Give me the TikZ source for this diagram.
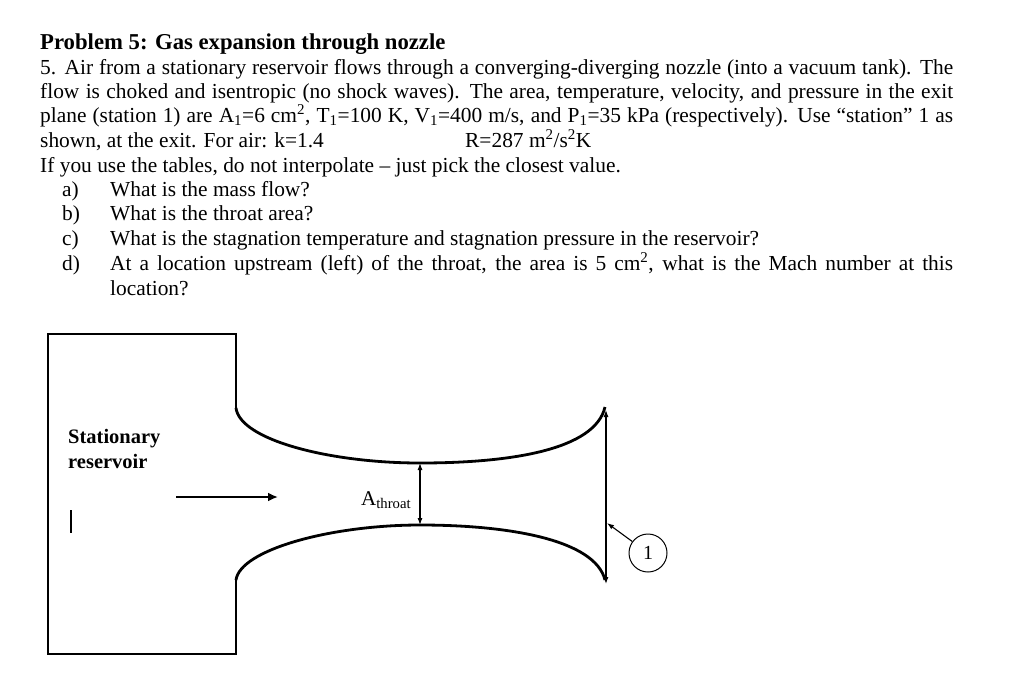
\documentclass[tikz,border=0pt]{standalone}
\usepackage{fontspec}
\usetikzlibrary{arrows.meta}
\setmainfont{Liberation Serif}
\begin{document}
\begin{tikzpicture}[x=1pt,y=-1pt,
  txt/.style={anchor=base west,inner sep=0pt,font=\fontsize{21.4}{24}\selectfont},
  wall/.style={line width=2.8pt},
  dim/.style={line width=1.1pt,-{Latex[length=7pt,width=5pt]}}]
\useasboundingbox (0,0) rectangle (1024,672);
\node[txt,font=\bfseries\fontsize{22.7}{24}\selectfont] (t0) at (40,49) {Problem 5: Gas expansion through nozzle};
\node[txt] (t1) at (40,74) {\makebox[913pt][s]{5. Air from a stationary reservoir flows through a converging-diverging nozzle (into a vacuum tank). The}};
\node[txt] (t2) at (40,98) {\makebox[913pt][s]{flow is choked and isentropic (no shock waves). The area, temperature, velocity, and pressure in the exit}};
\node[txt] (t3) at (40,122) {\makebox[913pt][s]{plane (station 1) are A\textsubscript{1}=6 cm\textsuperscript{2}, T\textsubscript{1}=100 K, V\textsubscript{1}=400 m/s, and P\textsubscript{1}=35 kPa (respectively). Use “station” 1 as}};
\node[txt] (t4) at (40,147) {shown, at the exit. For air: k=1.4};
\node[txt] (t4b) at (465,147) {R=287 m\textsuperscript{2}/s\textsuperscript{2}K};
\node[txt] (t5) at (40,172) {If you use the tables, do not interpolate -- just pick the closest value.};
\node[txt] (a1) at (62,196) {a)}; \node[txt] (a2) at (110,196) {What is the mass flow?};
\node[txt] (b1) at (62,220) {b)}; \node[txt] (b2) at (110,220) {What is the throat area?};
\node[txt] (c1) at (62,245) {c)}; \node[txt] (c2) at (110,245) {What is the stagnation temperature and stagnation pressure in the reservoir?};
\node[txt] (d1) at (62,270) {d)}; \node[txt] (d2) at (110,270) {\makebox[843pt][s]{At a location upstream (left) of the throat, the area is 5 cm\textsuperscript{2}, what is the Mach number at this}};
\node[txt] (d3) at (110,295) {location?};
% diagram
\draw[wall] (236,408) -- (236,334) -- (48,334) -- (48,654) -- (236,654) -- (236,580);
\draw[wall] (236,408) .. controls (240,440) and (330,463) .. (420,463) .. controls (510,463) and (595,450) .. (605,407);
\draw[wall] (236,580) .. controls (240,550) and (330,525) .. (420,525) .. controls (510,525) and (595,540) .. (605,580);
\coordinate (th1) at (420,463); \coordinate (th2) at (420,525);
\draw[dim,{Latex[length=7pt,width=5pt]}-{Latex[length=7pt,width=5pt]}] (th1) -- (th2);
\coordinate (ex1) at (606,410); \coordinate (ex2) at (606,584);
\draw[dim,{Latex[length=7pt,width=5pt]}-{Latex[length=7pt,width=5pt]}] (ex1) -- (ex2);
\node[draw,circle,line width=1pt,minimum size=38pt,inner sep=0pt,font=\fontsize{20}{22}\selectfont] (one) at (648,553) {1};
\coordinate (ex3) at (607,523);
\draw[dim] (one) -- (ex3);
\node[txt,font=\fontsize{21}{22}\selectfont] (ath) at (361,505) {A\textsubscript{throat}};
\coordinate (f1) at (176,497); \coordinate (f2) at (278,497);
\draw[line width=2.8pt,-{Latex[length=10pt,width=9pt]}] (f1) -- (f2);
\node[txt,font=\bfseries\fontsize{20.5}{22}\selectfont] (sr1) at (68,443) {Stationary};
\node[txt,font=\bfseries\fontsize{20.5}{22}\selectfont] (sr2) at (68,468) {reservoir};
\coordinate (bar1) at (71,510); \coordinate (bar2) at (71,533);
\draw[line width=2pt] (bar1) -- (bar2);
\end{tikzpicture}
\end{document}
